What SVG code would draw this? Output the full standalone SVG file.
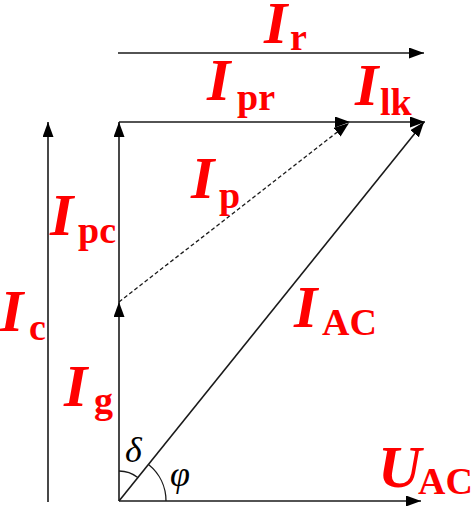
<svg xmlns="http://www.w3.org/2000/svg" width="474" height="506" viewBox="0 0 474 506">
<style>
.ln{stroke:#1a1a1a;stroke-width:1.6;fill:none}
.dash{stroke:#1a1a1a;stroke-width:1.3;fill:none;stroke-dasharray:4 2.5}
.arc{stroke:#1a1a1a;stroke-width:1.3;fill:none}
.big{font-family:"Liberation Serif","Times New Roman",serif;font-weight:bold;font-style:italic;font-size:60px;fill:#ff0000}
.sub{font-family:"Liberation Serif","Times New Roman",serif;font-weight:bold;font-size:38px;fill:#ff0000}
.ang{font-family:"Liberation Serif","Times New Roman",serif;font-style:italic;font-size:36px;fill:#000}
</style>
<defs>
<marker id="ah" markerUnits="userSpaceOnUse" markerWidth="16" markerHeight="12" refX="15" refY="5.5" orient="auto">
<path d="M0,0 L15,5.5 L0,11 z" fill="#000"/>
</marker>
</defs>
<g id="connectors">
<line class="ln" x1="118" y1="53" x2="424" y2="53" marker-end="url(#ah)"/>
<line class="ln" x1="48" y1="502" x2="48" y2="122" marker-end="url(#ah)"/>
<line class="ln" x1="119" y1="501" x2="119" y2="302" marker-end="url(#ah)"/>
<line class="ln" x1="119" y1="302" x2="119" y2="122" marker-end="url(#ah)"/>
<line class="ln" x1="119" y1="122" x2="350" y2="122" marker-end="url(#ah)"/>
<line class="ln" x1="350" y1="122" x2="425" y2="122" marker-end="url(#ah)"/>
<line class="dash" x1="119" y1="302" x2="349" y2="123" marker-end="url(#ah)"/>
<line class="ln" x1="119" y1="501" x2="424" y2="122" marker-end="url(#ah)"/>
<line class="ln" x1="119" y1="501" x2="421" y2="501" marker-end="url(#ah)"/>
<path class="arc" d="M119,471 A30,30 0 0 1 137.8,477.6"/>
<path class="arc" d="M148.5,464.4 A47,47 0 0 1 166,501"/>
</g>
<g id="Ir"><text class="big" x="264" y="43">I</text><text class="sub" x="290" y="50">r</text></g>
<g id="Ipr"><text class="big" x="207" y="100">I</text><text class="sub" x="237" y="110">pr</text></g>
<g id="Ilk"><text class="big" x="355" y="105">I</text><text class="sub" x="380" y="115">lk</text></g>
<g id="Ip"><text class="big" x="191" y="198">I</text><text class="sub" x="219" y="208">p</text></g>
<g id="Ipc"><text class="big" x="50" y="235">I</text><text class="sub" x="78" y="243">pc</text></g>
<g id="Ic"><text class="big" x="0" y="331">I</text><text class="sub" x="29" y="340">c</text></g>
<g id="Ig"><text class="big" x="64" y="406">I</text><text class="sub" x="94" y="413">g</text></g>
<g id="IAC"><text class="big" x="294" y="327">I</text><text class="sub" x="322" y="335">AC</text></g>
<g id="UAC"><text class="big" x="378" y="487">U</text><text class="sub" x="418" y="494">AC</text></g>
<g id="delta"><text class="ang" x="125" y="462">δ</text></g>
<g id="phi"><text class="ang" x="170" y="486">φ</text></g>
</svg>
